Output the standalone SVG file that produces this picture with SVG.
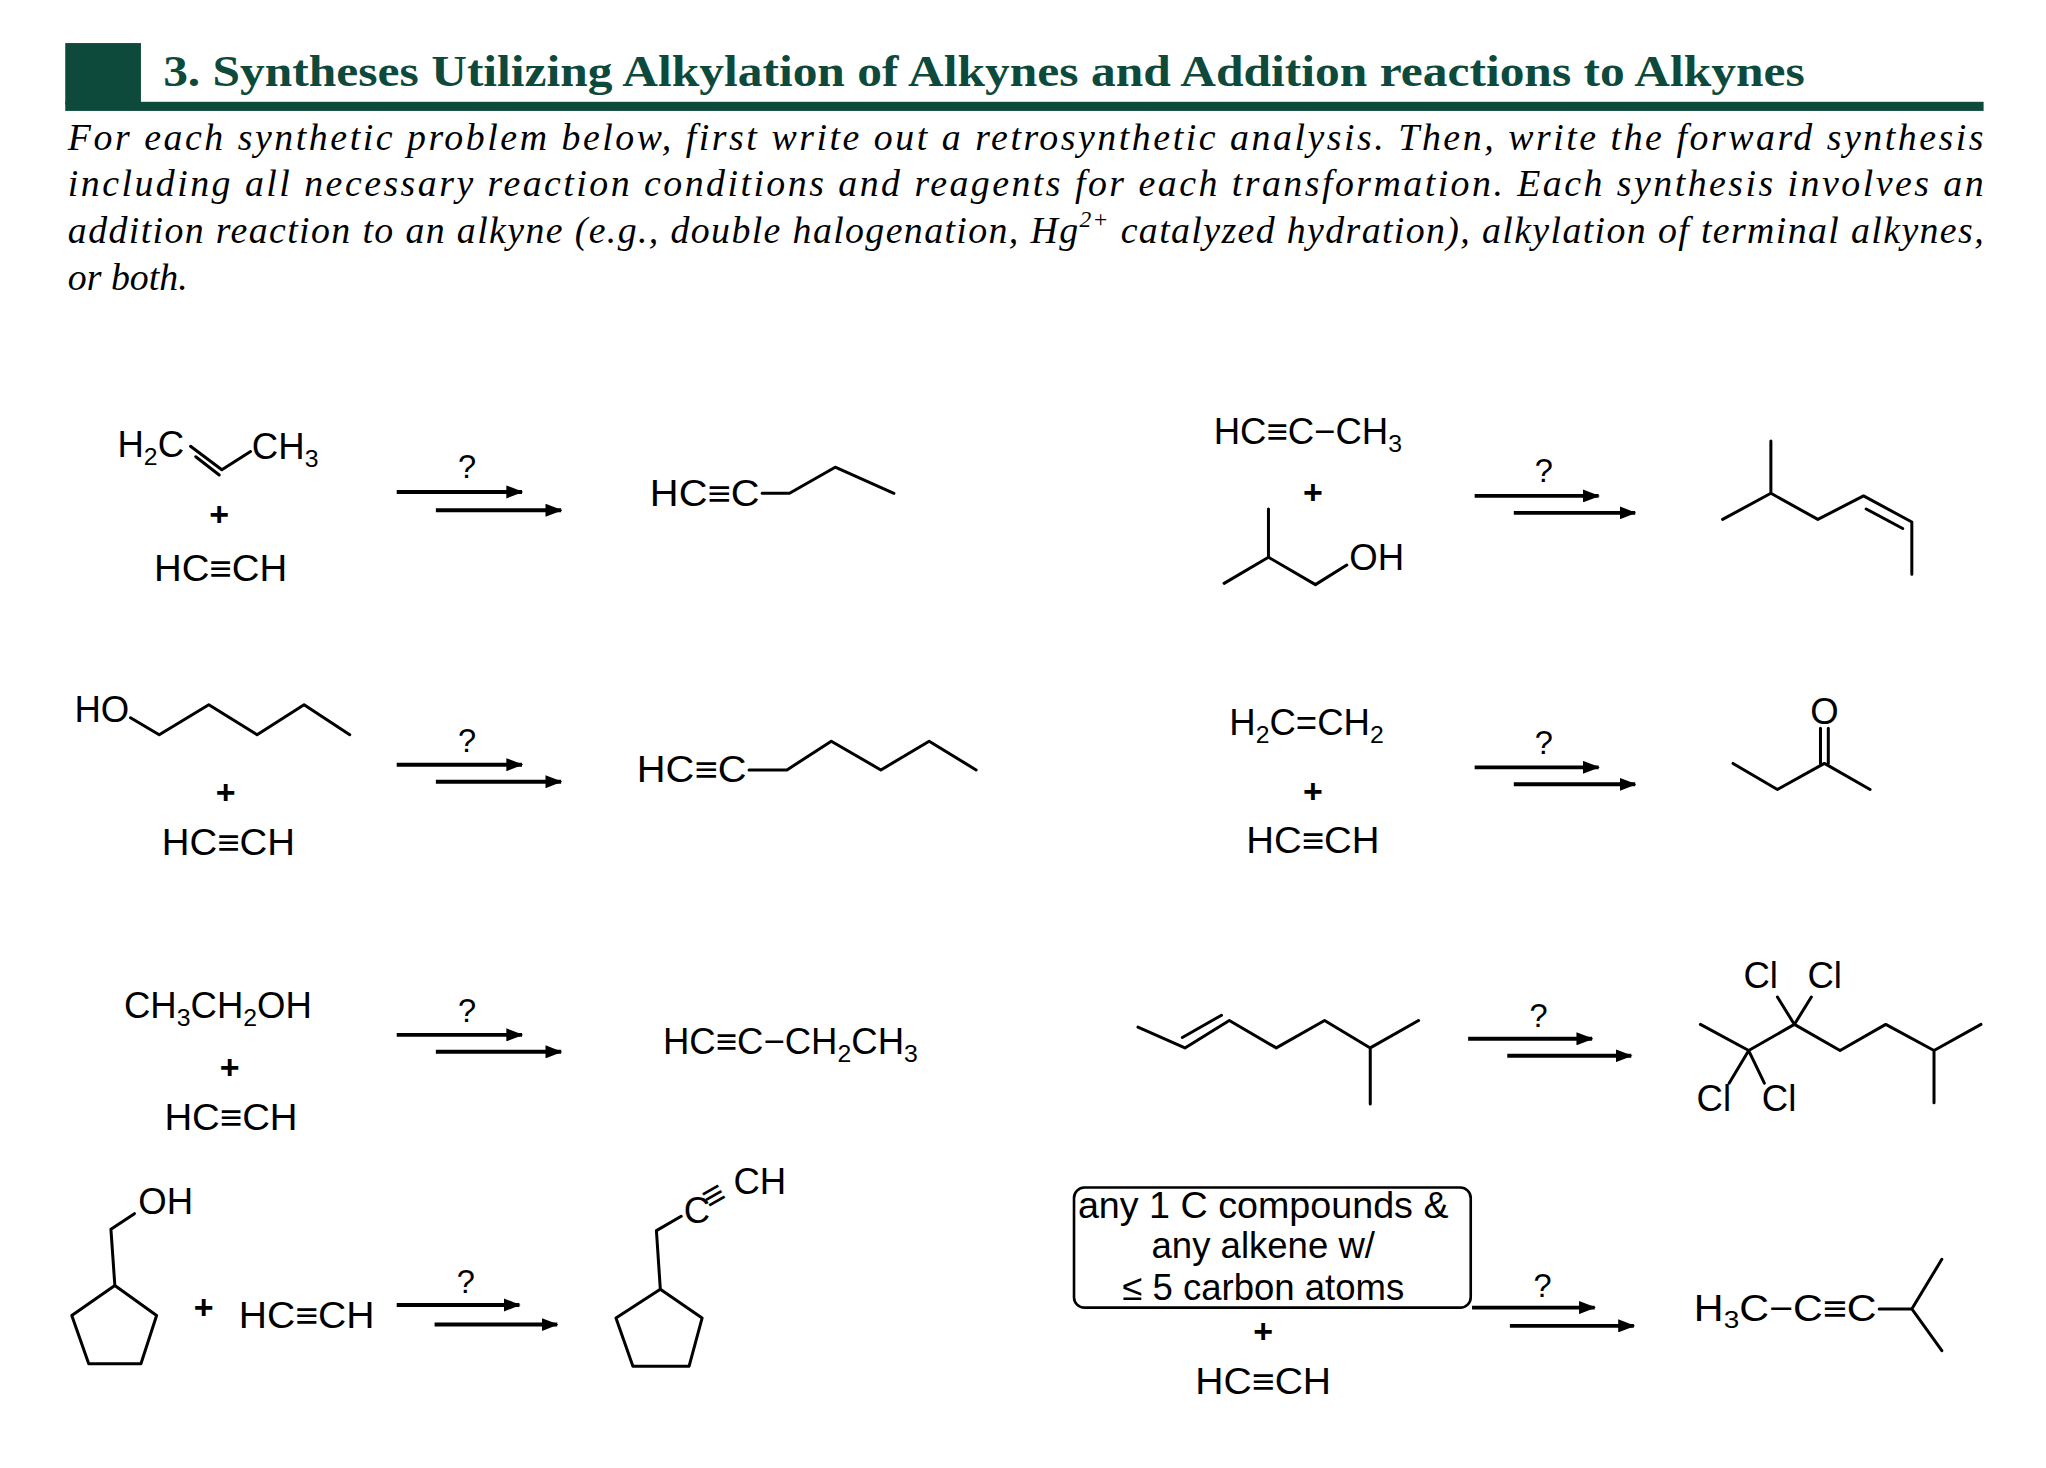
<svg xmlns="http://www.w3.org/2000/svg" width="2046" height="1468" viewBox="0 0 2046 1468">
<defs>
<marker id="ah" markerWidth="13" markerHeight="10" refX="12" refY="5" orient="auto" markerUnits="userSpaceOnUse"><path d="M0,0 L13,5 L0,10 Z" fill="#000"/></marker>
<style>
.b{stroke:#000;stroke-width:2.3;fill:none;stroke-linecap:round;stroke-linejoin:round}
.a{stroke:#000;stroke-width:3;fill:none;marker-end:url(#ah)}
.t{font-family:"Liberation Sans",Arial,sans-serif;font-size:28px;fill:#000}
.q{font-family:"Liberation Sans",Arial,sans-serif;font-size:25px;fill:#000;text-anchor:middle}
.p{font-family:"Liberation Sans",Arial,sans-serif;font-size:26px;font-weight:bold;fill:#000;text-anchor:middle}
.it{font-family:"Liberation Serif","Times New Roman",serif;font-style:italic;font-size:29px;fill:#000}
</style>
</defs>
<rect width="2046" height="1468" fill="#fff"/>
<g transform="scale(1.305)">
<g id="header">
<rect x="50" y="33" width="58" height="47" fill="#0d4a3c"/>
<rect x="50" y="78" width="1470" height="7" fill="#0d4a3c"/>
<text x="125" y="66" font-family="Liberation Serif,serif" font-weight="bold" font-size="34" fill="#0d4a3c" textLength="1258" lengthAdjust="spacingAndGlyphs">3. Syntheses Utilizing Alkylation of Alkynes and Addition reactions to Alkynes</text>
<text class="it" x="52" y="115" textLength="1468" lengthAdjust="spacing">For each synthetic problem below, first write out a retrosynthetic analysis. Then, write the forward synthesis</text>
<text class="it" x="52" y="150" textLength="1468" lengthAdjust="spacing">including all necessary reaction conditions and reagents for each transformation. Each synthesis involves an</text>
<text class="it" x="52" y="186" textLength="1468" lengthAdjust="spacing">addition reaction to an alkyne (e.g., double halogenation, Hg<tspan dy="-12" font-size="18">2+</tspan><tspan dy="12"> catalyzed hydration), alkylation of terminal alkynes,</tspan></text>
<text class="it" x="52" y="222">or both.</text>
</g>
<g id="connectors">
<line class="a" x1="304" y1="377" x2="400" y2="377"/><line class="a" x1="334" y1="391" x2="430" y2="391"/>
<line class="a" x1="1130" y1="380" x2="1225" y2="380"/><line class="a" x1="1160" y1="393" x2="1253" y2="393"/>
<line class="a" x1="304" y1="586" x2="400" y2="586"/><line class="a" x1="334" y1="599" x2="430" y2="599"/>
<line class="a" x1="1130" y1="588" x2="1225" y2="588"/><line class="a" x1="1160" y1="601" x2="1253" y2="601"/>
<line class="a" x1="304" y1="793" x2="400" y2="793"/><line class="a" x1="334" y1="806" x2="430" y2="806"/>
<line class="a" x1="1125" y1="796" x2="1220" y2="796"/><line class="a" x1="1155" y1="809" x2="1250" y2="809"/>
<line class="a" x1="304" y1="1000" x2="398" y2="1000"/><line class="a" x1="333" y1="1015" x2="427" y2="1015"/>
<line class="a" x1="1128" y1="1002" x2="1222" y2="1002"/><line class="a" x1="1157" y1="1016" x2="1252" y2="1016"/>
<text class="q" x="358" y="366">?</text><text class="q" x="1183" y="369">?</text>
<text class="q" x="358" y="576">?</text><text class="q" x="1183" y="578">?</text>
<text class="q" x="358" y="783">?</text><text class="q" x="1179" y="787">?</text>
<text class="q" x="357" y="991">?</text><text class="q" x="1182" y="994">?</text>
</g>
<g id="r1-reactants">
<text class="t" x="90" y="350">H<tspan font-size="19" dy="6">2</tspan><tspan dy="-6">C</tspan></text>
<path class="b" d="M146,342 L170,360 L192,346"/><path class="b" d="M150,350 L168,364"/>
<text class="t" x="193" y="352">CH<tspan font-size="19" dy="6">3</tspan></text>
<text class="p" x="168" y="403">+</text>
<text class="t" x="118" y="445" textLength="102" lengthAdjust="spacingAndGlyphs">HC≡CH</text>
</g>
<g id="r1-product">
<text class="t" x="498" y="388" textLength="84" lengthAdjust="spacingAndGlyphs">HC≡C</text>
<path class="b" d="M584,378 L605,378 L640,358 L685,378"/>
</g>
<g id="r2-reactants">
<text class="t" x="930" y="340">HC≡C−CH<tspan font-size="19" dy="6">3</tspan></text>
<text class="p" x="1006" y="386">+</text>
<path class="b" d="M938,447 L972,427 L1008,448 L1032,433 M972,427 L972,390"/>
<text class="t" x="1034" y="437">OH</text>
</g>
<g id="r2-product">
<path class="b" d="M1357,338 L1357,378 M1320,398 L1357,378 L1393,398 L1428,380 L1465,400 L1465,440 M1430,390 L1458,405"/>
</g>
<g id="r3-reactants">
<text class="t" x="57" y="553">HO</text>
<path class="b" d="M100,550 L122,563 L160,540 L197,563 L233,540 L268,563"/>
<text class="p" x="173" y="616">+</text>
<text class="t" x="124" y="655" textLength="102" lengthAdjust="spacingAndGlyphs">HC≡CH</text>
</g>
<g id="r3-product">
<text class="t" x="488" y="599" textLength="84" lengthAdjust="spacingAndGlyphs">HC≡C</text>
<path class="b" d="M574,590 L603,590 L637,568 L675,590 L712,568 L748,590"/>
</g>
<g id="r4-reactants">
<text class="t" x="942" y="563">H<tspan font-size="19" dy="6">2</tspan><tspan dy="-6">C=CH</tspan><tspan font-size="19" dy="6">2</tspan></text>
<text class="p" x="1006" y="615">+</text>
<text class="t" x="955" y="654" textLength="102" lengthAdjust="spacingAndGlyphs">HC≡CH</text>
</g>
<g id="r4-product">
<path class="b" d="M1328,585 L1362,605 L1398,585 L1433,605 M1395,585 L1395,558 M1401,585 L1401,558"/>
<text class="t" x="1398" y="555" text-anchor="middle">O</text>
</g>
<g id="r5-reactants">
<text class="t" x="95" y="780">CH<tspan font-size="19" dy="6">3</tspan><tspan dy="-6">CH</tspan><tspan font-size="19" dy="6">2</tspan><tspan dy="-6">OH</tspan></text>
<text class="p" x="176" y="827">+</text>
<text class="t" x="126" y="866" textLength="102" lengthAdjust="spacingAndGlyphs">HC≡CH</text>
</g>
<g id="r5-product">
<text class="t" x="508" y="808">HC≡C−CH<tspan font-size="19" dy="6">2</tspan><tspan dy="-6">CH</tspan><tspan font-size="19" dy="6">3</tspan></text>
</g>
<g id="r6-reactant">
<path class="b" d="M872,787 L908,803 L942,782 L978,803 L1015,782 L1050,803 L1087,782 M1050,803 L1050,846 M906,795 L936,778"/>
</g>
<g id="r6-product">
<path class="b" d="M1303,785 L1340,805 L1375,785 L1410,805 L1445,785 L1482,805 L1518,785 M1482,805 L1482,845 M1375,785 L1362,764 M1375,785 L1388,764 M1340,805 L1325,830 M1340,805 L1352,830"/>
<text class="t" x="1336" y="757">Cl</text><text class="t" x="1385" y="757">Cl</text>
<text class="t" x="1300" y="851">Cl</text><text class="t" x="1350" y="851">Cl</text>
</g>
<g id="r7-reactants">
<path class="b" d="M88,985 L120,1008 L108,1045 L68,1045 L55,1008 Z M88,985 L85,942 L103,930"/>
<text class="t" x="106" y="930">OH</text>
<text class="p" x="156" y="1011">+</text>
<text class="t" x="183" y="1018" textLength="104" lengthAdjust="spacingAndGlyphs">HC≡CH</text>
</g>
<g id="r7-product">
<path class="b" d="M506,988 L538,1010 L528,1047 L485,1047 L472,1010 Z M506,988 L503,943 L522,932"/>
<text class="t" x="524" y="937">C</text>
<text class="t" x="548" y="925" text-anchor="middle" transform="rotate(-30 548 918)">≡</text>
<text class="t" x="562" y="915">CH</text>
</g>
<g id="r8-reactants">
<rect x="823" y="910" width="304" height="92" rx="8" fill="none" stroke="#000" stroke-width="2"/>
<text class="t" x="968" y="933" text-anchor="middle" textLength="284" lengthAdjust="spacingAndGlyphs">any 1 C compounds &amp;</text>
<text class="t" x="968" y="964" text-anchor="middle">any alkene w/</text>
<text class="t" x="968" y="996" text-anchor="middle">≤ 5 carbon atoms</text>
<text class="p" x="968" y="1029">+</text>
<text class="t" x="968" y="1068" text-anchor="middle" textLength="104" lengthAdjust="spacingAndGlyphs">HC≡CH</text>
</g>
<g id="r8-product">
<text class="t" x="1298" y="1012" textLength="140" lengthAdjust="spacingAndGlyphs">H<tspan font-size="19" dy="6">3</tspan><tspan dy="-6">C−C≡C</tspan></text>
<path class="b" d="M1440,1003 L1465,1003 L1488,965 M1465,1003 L1488,1035"/>
</g>
</g>
</svg>
